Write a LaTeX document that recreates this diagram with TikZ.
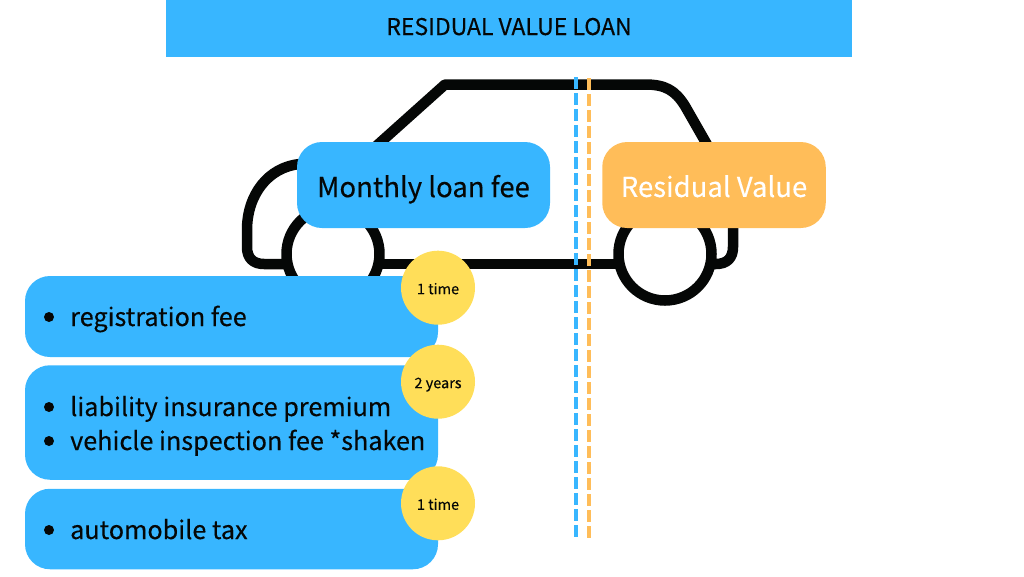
\documentclass[tikz,border=0pt]{standalone}
\usepackage{fontspec}
\setmainfont[FakeBold=0.25]{Noto Sans CJK JP}
\usepackage{xcolor}
\definecolor{skyblue}{HTML}{38B6FF}
\definecolor{sandy}{HTML}{FFBD59}
\definecolor{sun}{HTML}{FFDE59}
\definecolor{ink}{HTML}{050706}
\tikzstyle{carline}=[draw=ink, line width=10.5pt, line join=round]
\tikzstyle{pill}=[rectangle, rounded corners=25pt, inner sep=0pt, text depth=0pt, text=ink]
\tikzstyle{listbox}=[pill, fill=skyblue, minimum width=413pt]
\tikzstyle{listtext}=[anchor=base west, inner sep=0pt, text=ink, font=\fontsize{25.2}{30}\selectfont]
\tikzstyle{badge}=[circle, fill=sun, minimum size=74pt, inner sep=0pt, text height=13pt, text depth=0pt, text=ink, font=\fontsize{14.5}{16}\selectfont]
\tikzstyle{divider}=[line width=4.4pt, dash pattern=on 12pt off 4pt]

\begin{document}
\begin{tikzpicture}[x=1pt,y=-1pt]
\useasboundingbox (0,0) rectangle (1024,576);
\node[rectangle, fill=skyblue, minimum width=686pt, minimum height=57pt, inner sep=0pt, text height=17pt, text depth=0pt, text=ink, font=\fontsize{23}{26}\selectfont] (title) at (509,28.5) {\raisebox{2pt}{RESIDUAL VALUE LOAN}};

\draw[carline] (300,164) .. controls (268,167) and (247,195) .. (247,230) -- (247,247)
	.. controls (247,258) and (253,264) .. (264,264) -- (290,264);
\draw[carline] (330,187.5) -- (445,84.5) -- (645,84.5) .. controls (665,84.5) and (675,90) .. (685,106)
	-- (733,190) -- (733,247) .. controls (733,258) and (727,264) .. (716,264) -- (706,264);
\draw[carline] (380,264) -- (620,264);
\foreach \cx in {333,665} {
	\draw[carline, fill=white] (\cx,254) circle (46.5);
}

\draw[divider, skyblue] (576,77) -- (576,537);
\draw[divider, sandy] (588.7,78) -- (588.7,538);

\node[pill, fill=skyblue, minimum width=253pt, minimum height=86pt, font=\fontsize{27.5}{32}\selectfont] (monthly) at (423.5,185) {\raisebox{-2pt}{Monthly loan fee}};
\node[pill, fill=sandy, minimum width=223.5pt, minimum height=86pt, text=white, font=\fontsize{27.5}{32}\selectfont] (residual) at (714,185) {\raisebox{-2pt}{Residual Value}};

\node[listbox, minimum height=81pt] (regbox) at (231.5,316.5) {};
\node[listbox, minimum height=114.5pt] (liabbox) at (231.5,422.5) {};
\node[listbox, minimum height=80.5pt] (taxbox) at (231.5,529) {};

\foreach \name/\ypos/\label in {reg/326/registration fee,liab/416/liability insurance premium,insp/450/vehicle inspection fee *shaken,tax/539/automobile tax} {
	\node[listtext] (\name) at (70,\ypos) {\label};
	\fill[ink] (49,\ypos-9) circle (5);
}

\node[badge] (once) at (438,287.7) {1 time};
\node[badge] (biennial) at (438,381.7) {2 years};
\node[badge] (yearly) at (438,503.3) {1 time};
\end{tikzpicture}
\end{document}
